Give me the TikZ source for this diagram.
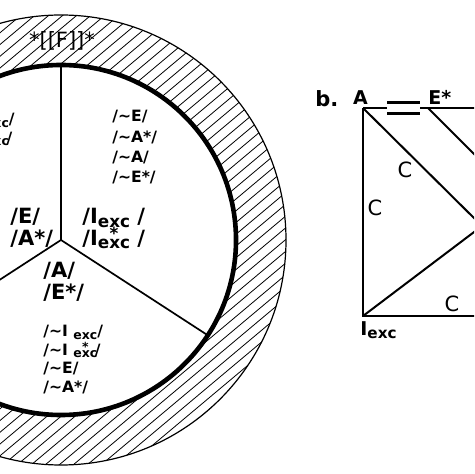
\documentclass[tikz,border=0pt]{standalone}
\usepackage{fontspec}
\setmainfont{DejaVu Sans}
\usepackage{graphicx}
\usepackage{tikz}
\newcommand{\lowtxt}[1]{\raisebox{-0.3ex}{\scalebox{0.8}{#1}}}
\newcommand{\starexc}{\raisebox{-0.3ex}{\scalebox{0.8}{\ooalign{exc\cr\hidewidth\raisebox{0.95ex}{*}\hidewidth\cr}}}}
\begin{document}
\begin{tikzpicture}[x=0.5pt,y=-0.5pt,
  hatch/.style={line width=0.4pt},
  spoke/.style={line width=0.85pt},
  side/.style={line width=1pt},
  bar/.style={line width=1.5pt},
  bigtxt/.style={font=\fontsize{10.5}{10.75}\selectfont\bfseries, align=left, anchor=north west, inner sep=0pt},
  smalltxt/.style={font=\fontsize{7.8}{10.2}\selectfont\bfseries, align=left, anchor=north west, inner sep=0pt},
  corner/.style={font=\fontsize{9.5}{11}\selectfont\bfseries, inner sep=0pt},
  clbl/.style={font=\fontsize{10.5}{12}\selectfont, inner sep=0pt}]
\useasboundingbox (0,0) rectangle (474,474);
\clip (0,0) rectangle (474,474);
\coordinate (ctr) at (61,240);
\coordinate (up) at (61,65);
\coordinate (lowR) at (207.8,335.3);
\coordinate (lowL) at (-85.8,335.3);
\begin{scope}
\clip (ctr) circle (225);
\foreach \k in {-234,-225,...,234}
  \draw[hatch] ({-122.8+0.643*\k},{394.3+0.766*\k}) -- ++(367.7,-308.5);
\end{scope}
\draw[line width=0.6pt] (ctr) circle (225);
\draw[line width=2.3pt, fill=white] (ctr) circle (175);
\draw[spoke] (ctr) -- (up);
\draw[spoke] (ctr) -- (lowR);
\draw[spoke] (ctr) -- (lowL);
\node[font=\fontsize{10.5}{12}\selectfont, inner sep=0pt] (ftag) at (62,41) {*[[F]]*};
\node[bigtxt] (secE) at (10,208) {/E/\\/A*/};
\node[bigtxt] (secI) at (82,208) {/I\lowtxt{exc} /\\/I\starexc\ /};
\node[bigtxt, font=\fontsize{10.5}{11}\selectfont\bfseries] (secA) at (43,262) {/A/\\/E*/};
\node[smalltxt] (notI) at (112,110) {/\textasciitilde E/\\/\textasciitilde A*/\\/\textasciitilde A/\\/\textasciitilde E*/};
\node[smalltxt, font=\fontsize{7.8}{9.3}\selectfont\bfseries] (notE) at (43,325) {/\textasciitilde I \lowtxt{exc}/\\/\textasciitilde I \starexc\kern-0.15em/\\/\textasciitilde E/\\/\textasciitilde A*/};
\node[smalltxt, font=\fontsize{7.8}{9.3}\selectfont\bfseries, anchor=north east] (notA) at (15,113) {/\textasciitilde I \lowtxt{exc}/\\/\textasciitilde I \starexc\kern-0.15em/};
\coordinate (cA) at (363,108);
\coordinate (cI) at (363,316);
\coordinate (cE) at (428,108);
\coordinate (barL) at (387,108);
\coordinate (barR) at (420,108);
\coordinate (topR) at (490,108);
\coordinate (botR) at (490,316);
\coordinate (apex) at (482,226);
\coordinate (eEnd) at (482,162);
\draw[side] (cA) -- (barL);
\draw[side] (barR) -- (topR);
\draw[side] (cA) -- (cI) -- (botR);
\draw[side] (cA) -- (apex) -- (cI);
\draw[side] (cE) -- (eEnd);
\draw[bar] ([yshift=2.8pt]barL) -- ([yshift=2.8pt]barR);
\draw[bar] ([yshift=-2.8pt]barL) -- ([yshift=-2.8pt]barR);
\node[font=\fontsize{10.5}{12}\selectfont\bfseries, anchor=base west, inner sep=0pt] (lblb) at (315,107) {b.};
\node[corner, anchor=base] (lblA) at (360.5,105) {A};
\node[corner, anchor=base west] (lblE) at (428,105) {E*};
\node[corner, anchor=base west] (lblI) at (360,335) {I\lowtxt{exc}};
\node[clbl] (cDiag) at (405,170) {C};
\node[clbl] (cLeft) at (375,208) {C};
\node[clbl] (cBot) at (452,304) {C};
\end{tikzpicture}
\end{document}
